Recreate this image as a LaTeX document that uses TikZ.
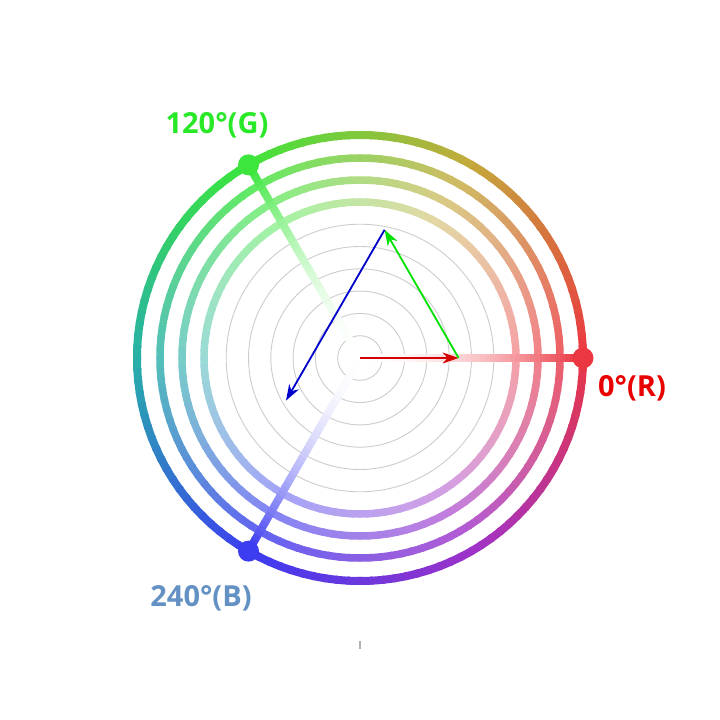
\documentclass[tikz,border=0pt]{standalone}
\usepackage{fontspec}
\setmainfont{Open Sans}
\usetikzlibrary{arrows.meta}
\definecolor{hue0}{RGB}{235,55,65}
\definecolor{hue1}{RGB}{195,170,60}
\definecolor{hue2}{RGB}{60,230,60}
\definecolor{hue3}{RGB}{40,175,170}
\definecolor{hue4}{RGB}{60,60,240}
\definecolor{hue5}{RGB}{160,50,200}
\definecolor{labR}{RGB}{232,0,0}
\definecolor{labG}{RGB}{40,232,40}
\definecolor{labB}{RGB}{100,145,195}
\definecolor{vecR}{RGB}{215,0,0}
\definecolor{vecG}{RGB}{0,225,0}
\definecolor{vecB}{RGB}{0,0,205}

\begin{document}
\begin{tikzpicture}[x=1pt,y=1pt,
          every node/.style={font=\fontsize{29}{34}\selectfont\bfseries},
          gridcircle/.style={draw=black!20,line width=0.9pt},
          huedot/.style={circle,inner sep=0pt,minimum size=21pt},
          vec/.style={line width=1.8pt,-{Stealth[length=16pt,width=11pt,inset=5pt]}},
        ]
        \useasboundingbox (-360,-362) rectangle (360,358);
        \coordinate (O) at (0,0);

        % Hue rings, more white towards the centre
        \foreach \r/\s/\w in {223/100/8,200/80/7.5,178/63/7.5,156/47/7.5}{
          \foreach \a in {0,3,...,357}{
            \pgfmathtruncatemacro{\k}{\a/60}
            \pgfmathtruncatemacro{\n}{mod(\k+1,6)}
            \pgfmathsetmacro{\t}{mod(\a,60)/60*100}
            \pgfmathsetmacro{\sa}{\a-0.4}
            \pgfmathsetmacro{\ea}{\a+3.4}
            \colorlet{seg}{hue\n!\t!hue\k}
            \draw[seg!\s!white,line width=\w pt] (\sa:\r) arc[start angle=\sa,end angle=\ea,radius=\r];
          }
        }

        % Grid circles
        \foreach \k in {1,...,6} {
          \draw[gridcircle] (O) circle[radius=22.3*\k];
        }

        % Radial bars, fading to white at the centre
        \foreach \ang/\col in {0/hue0, 120/hue2, 240/hue4} {
          \foreach \i in {2,...,44} {
            \pgfmathsetmacro{\p}{100*(\i/44)^2}
            \draw[\col!\p!white,line width=8pt] (\ang:5*\i-5.5) -- (\ang:5*\i);
          }
        }
        \node[huedot,fill=hue0] (dotR) at (0:223) {};
        \node[huedot,fill=hue2] (dotG) at (120:223) {};
        \node[huedot,fill=hue4] (dotB) at (240:223) {};

        \node[text=labR] (labR) at (272,-30) {0°(R)};
        \node[text=labG] (labG) at (-143,233) {120°(G)};
        \node[text=labB] (labB) at (-159,-240) {240°(B)};

        % Vector sum
        \coordinate (vR) at (98.6,0);
        \coordinate (vG) at (24.6,128.2);
        \coordinate (vB) at (-74,-42.6);
        \draw[vec,vecR] (O) -- (vR);
        \draw[vec,vecG] (vR) -- (vG);
        \draw[vec,vecB] (vG) -- (vB);

        \draw[black!30,line width=1pt] (0,-283) -- (0,-291);
      \end{tikzpicture}
\end{document}
